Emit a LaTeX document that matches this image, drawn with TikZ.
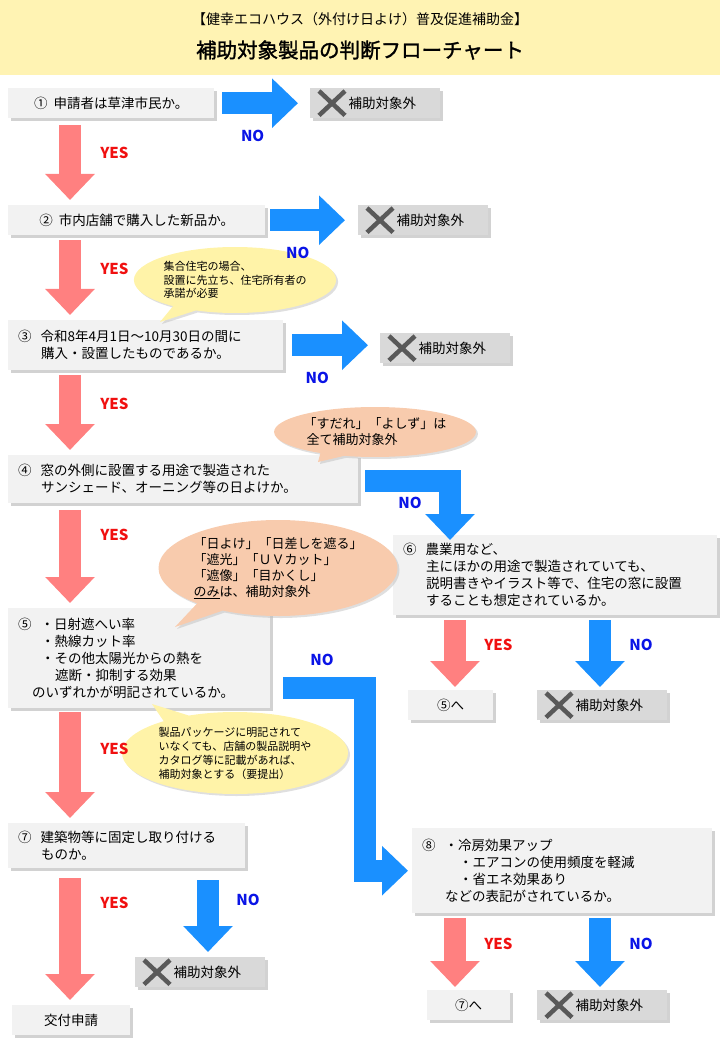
\documentclass[tikz,border=0pt]{standalone}
\usepackage{fontspec}
\setmainfont{Noto Sans CJK JP}
\newfontfamily\jpb{Noto Sans CJK JP}[FakeBold=1.5]
\usepackage{xcolor}
\usetikzlibrary{arrows.meta,shadows,shapes.callouts,calc}
\definecolor{band}{HTML}{FFF3B3}
\definecolor{boxgray}{HTML}{F2F2F2}
\definecolor{xgray}{HTML}{D9D9D9}
\definecolor{xmk}{HTML}{595959}
\definecolor{pink}{HTML}{FF8080}
\definecolor{sky}{HTML}{1A90FF}
\definecolor{noblue}{HTML}{0A14E6}
\definecolor{yesred}{HTML}{F01010}
\definecolor{note}{HTML}{FFF3A8}
\definecolor{peach}{HTML}{F8CBAD}
\newcommand\xmark[1]{\draw[line width=4.5pt, xmk] ([xshift=9,yshift=-3]#1.north west) -- ([xshift=35,yshift=3]#1.south west)
  ([xshift=9,yshift=3]#1.south west) -- ([xshift=35,yshift=-3]#1.north west);}
\tikzset{
  box/.style={fill=boxgray, drop shadow={shadow xshift=3pt, shadow yshift=-3pt, fill=black!35}, anchor=north west,
    inner xsep=10pt, inner ysep=4pt, align=left, font=\fontsize{13.5}{17}\selectfont},
  xbox/.style={box, fill=xgray, minimum width=130pt, minimum height=30pt, text width=82pt, inner xsep=0pt, align=right},
  pk/.style={line width=22pt, pink, -{Triangle[width=48pt,length=26pt]}},
  bl/.style={line width=22pt, sky, -{Triangle[width=48pt,length=26pt]}},
  yes/.style={text=yesred, font=\bfseries\fontsize{15}{15}\selectfont},
  no/.style={text=noblue, font=\bfseries\fontsize{15}{15}\selectfont},
  call/.style={ellipse callout, drop shadow={shadow xshift=2pt, shadow yshift=-2pt, fill=black!25}, align=left, inner sep=0pt},
}
\begin{document}
\begin{tikzpicture}[x=1pt, y=-1pt]
\useasboundingbox (0,0) rectangle (720,1040);

% Title
\fill[band] (0,0) rectangle (720,75);
\node[font=\fontsize{14}{14}\selectfont] (t1) at (360,19) {【健幸エコハウス（外付け日よけ）普及促進補助金】};
\node[font=\jpb\fontsize{20.5}{20.5}\selectfont] (t2) at (360,50) {補助対象製品の判断フローチャート};

% Boxes
\node[box, minimum width=206pt, minimum height=30pt] (b1) at (8,88) {①\ \ 申請者は草津市民か。};
\node[box, minimum width=257pt, minimum height=30pt] (b2) at (8,205) {②\ \ 市内店舗で購入した新品か。};
\node[box, text width=255pt, minimum height=50pt] (b3) at (8,320) {③\ \ 令和8年4月1日～10月30日の間に\\\hspace*{23pt}購入・設置したものであるか。};
\node[box, text width=330pt, minimum height=48pt] (b4) at (8,455) {④\ \ 窓の外側に設置する用途で製造された\\\hspace*{23pt}サンシェード、オーニング等の日よけか。};
\node[box, text width=242pt, minimum height=100pt] (b5) at (8,608) {⑤\ \ ・日射遮へい率\\\hspace*{23pt}・熱線カット率\\\hspace*{23pt}・その他太陽光からの熱を\\\hspace*{37pt}遮断・抑制する効果\\\hspace*{14pt}のいずれかが明記されているか。};
\node[box, text width=304pt, minimum height=80pt] (b6) at (393,535) {⑥\ \ 農業用など、\\\hspace*{23pt}主にほかの用途で製造されていても、\\\hspace*{23pt}説明書きやイラスト等で、住宅の窓に設置\\\hspace*{23pt}することも想定されているか。};
\node[box, text width=217pt, minimum height=45pt] (b7) at (8,823) {⑦\ \ 建築物等に固定し取り付ける\\\hspace*{23pt}ものか。};
\node[box, text width=280pt, minimum height=85pt] (b8) at (412,828) {⑧\ \ ・冷房効果アップ\\\hspace*{37pt}・エアコンの使用頻度を軽減\\\hspace*{37pt}・省エネ効果あり\\\hspace*{23pt}などの表記がされているか。};
\node[box, minimum width=118pt, minimum height=30pt, align=center] (go) at (12,1005) {交付申請};
\node[box, minimum width=85pt, minimum height=30pt, align=center] (to5) at (408,690) {⑤へ};
\node[box, minimum width=83pt, minimum height=30pt, align=center] (to7) at (427,990) {⑦へ};

% Not eligible
\node[xbox] (x1) at (310,88) {補助対象外};
\node[xbox] (x2) at (358,205) {補助対象外};
\node[xbox] (x3) at (380,333) {補助対象外};
\node[xbox] (x6) at (537,690) {補助対象外};
\node[xbox] (x7) at (135,957) {補助対象外};
\node[xbox] (x8) at (537,990) {補助対象外};
\xmark{x1}\xmark{x2}\xmark{x3}\xmark{x6}\xmark{x7}\xmark{x8}

% Notes
\node[call, fill=note, minimum width=200pt, minimum height=66pt, font=\fontsize{11}{13.5}\selectfont,
  callout absolute pointer={(160,322)}] (n1) at (235,280)
  {集合住宅の場合、\\設置に先立ち、住宅所有者の\\承諾が必要};
\node[call, fill=peach, minimum width=196pt, minimum height=50pt, font=\fontsize{13}{16}\selectfont,
  callout absolute pointer={(318,462)}] (n2) at (375,432)
  {「すだれ」「よしず」は\\\ 全て補助対象外};
\node[call, fill=peach, minimum width=216pt, minimum height=96pt, font=\fontsize{13}{16}\selectfont,
  callout absolute pointer={(175,627)}] (n3) at (278,568)
  {「日よけ」「日差しを遮る」\\「遮光」「ＵＶカット」\\「遮像」「目かくし」\\\underline{のみ}は、補助対象外};
\node[call, fill=note, minimum width=226pt, minimum height=82pt, font=\fontsize{11}{14}\selectfont,
  callout absolute pointer={(152,704)}] (n4) at (235,753)
  {製品パッケージに明記されて\\いなくても、店舗の製品説明や\\カタログ等に記載があれば、\\補助対象とする（要提出）};

% Arrows
\draw[bl, shorten <=8pt, shorten >=12pt] (b1) -- (x1) node[pos=0.4, below=13pt, no] {NO};
\draw[bl, shorten <=5pt, shorten >=13pt] (b2) -- (x2) node[pos=0.35, below=13pt, no] {NO};
\draw[bl, shorten <=9pt, shorten >=12pt] (b3.east) -- (b3.east -| x3.west) node[pos=0.35, below=13pt, no] {NO};
\draw[pk, shorten <=7pt, shorten >=5pt] ([xshift=62]b1.south west) -- ([xshift=62]b2.north west) node[pos=0.4, right=16pt, yes] {YES};
\draw[pk, shorten <=5pt, shorten >=5pt] ([xshift=62]b2.south west) -- ([xshift=62]b3.north west) node[pos=0.4, right=16pt, yes] {YES};
\draw[pk, shorten <=5pt, shorten >=5pt] ([xshift=62]b3.south west) -- ([xshift=62]b4.north west) node[pos=0.4, right=16pt, yes] {YES};
\draw[pk, shorten <=7pt, shorten >=5pt] ([xshift=62]b4.south west) -- ([xshift=62]b5.north west) node[pos=0.3, right=16pt, yes] {YES};
\draw[pk, shorten <=4pt, shorten >=5pt] ([xshift=62]b5.south west) -- ([xshift=62]b7.north west) node[pos=0.35, right=16pt, yes] {YES};
\draw[pk, shorten <=10pt, shorten >=5pt] ([xshift=62]b7.south west) -- ([xshift=58]go.north west) node[pos=0.25, right=16pt, yes] {YES};
\draw[bl, shorten <=7pt, line join=miter] ([yshift=-2]b4.east) -| ([xshift=57,yshift=-5]b6.north west);
\node[no] (no4) at (410,503) {NO};
\draw[bl, shorten <=13pt, shorten >=4pt, line join=miter] ([yshift=-30]b5.east) -| ([xshift=-47]b8.west) -- (b8.west);
\node[no] (no5) at (322,660) {NO};
\draw[pk, shorten <=5pt, shorten >=3pt] ([xshift=62]b6.south west) -- ([xshift=47]to5.north west) node[pos=0.4, right=15pt, yes] {YES};
\draw[bl, shorten <=5pt, shorten >=3pt] ([xshift=207]b6.south west) -- ([xshift=63]x6.north west) node[pos=0.4, right=15pt, no] {NO};
\draw[bl, shorten <=12pt, shorten >=5pt] ([xshift=200]b7.south west) -- ([xshift=73]x7.north west) node[pos=0.35, right=14pt, no] {NO};
\draw[pk, shorten <=5pt, shorten >=3pt] ([xshift=43]b8.south west) -- ([xshift=28]to7.north west) node[pos=0.4, right=15pt, yes] {YES};
\draw[bl, shorten <=5pt, shorten >=3pt] ([xshift=188]b8.south west) -- ([xshift=63]x8.north west) node[pos=0.4, right=15pt, no] {NO};
\end{tikzpicture}
\end{document}
